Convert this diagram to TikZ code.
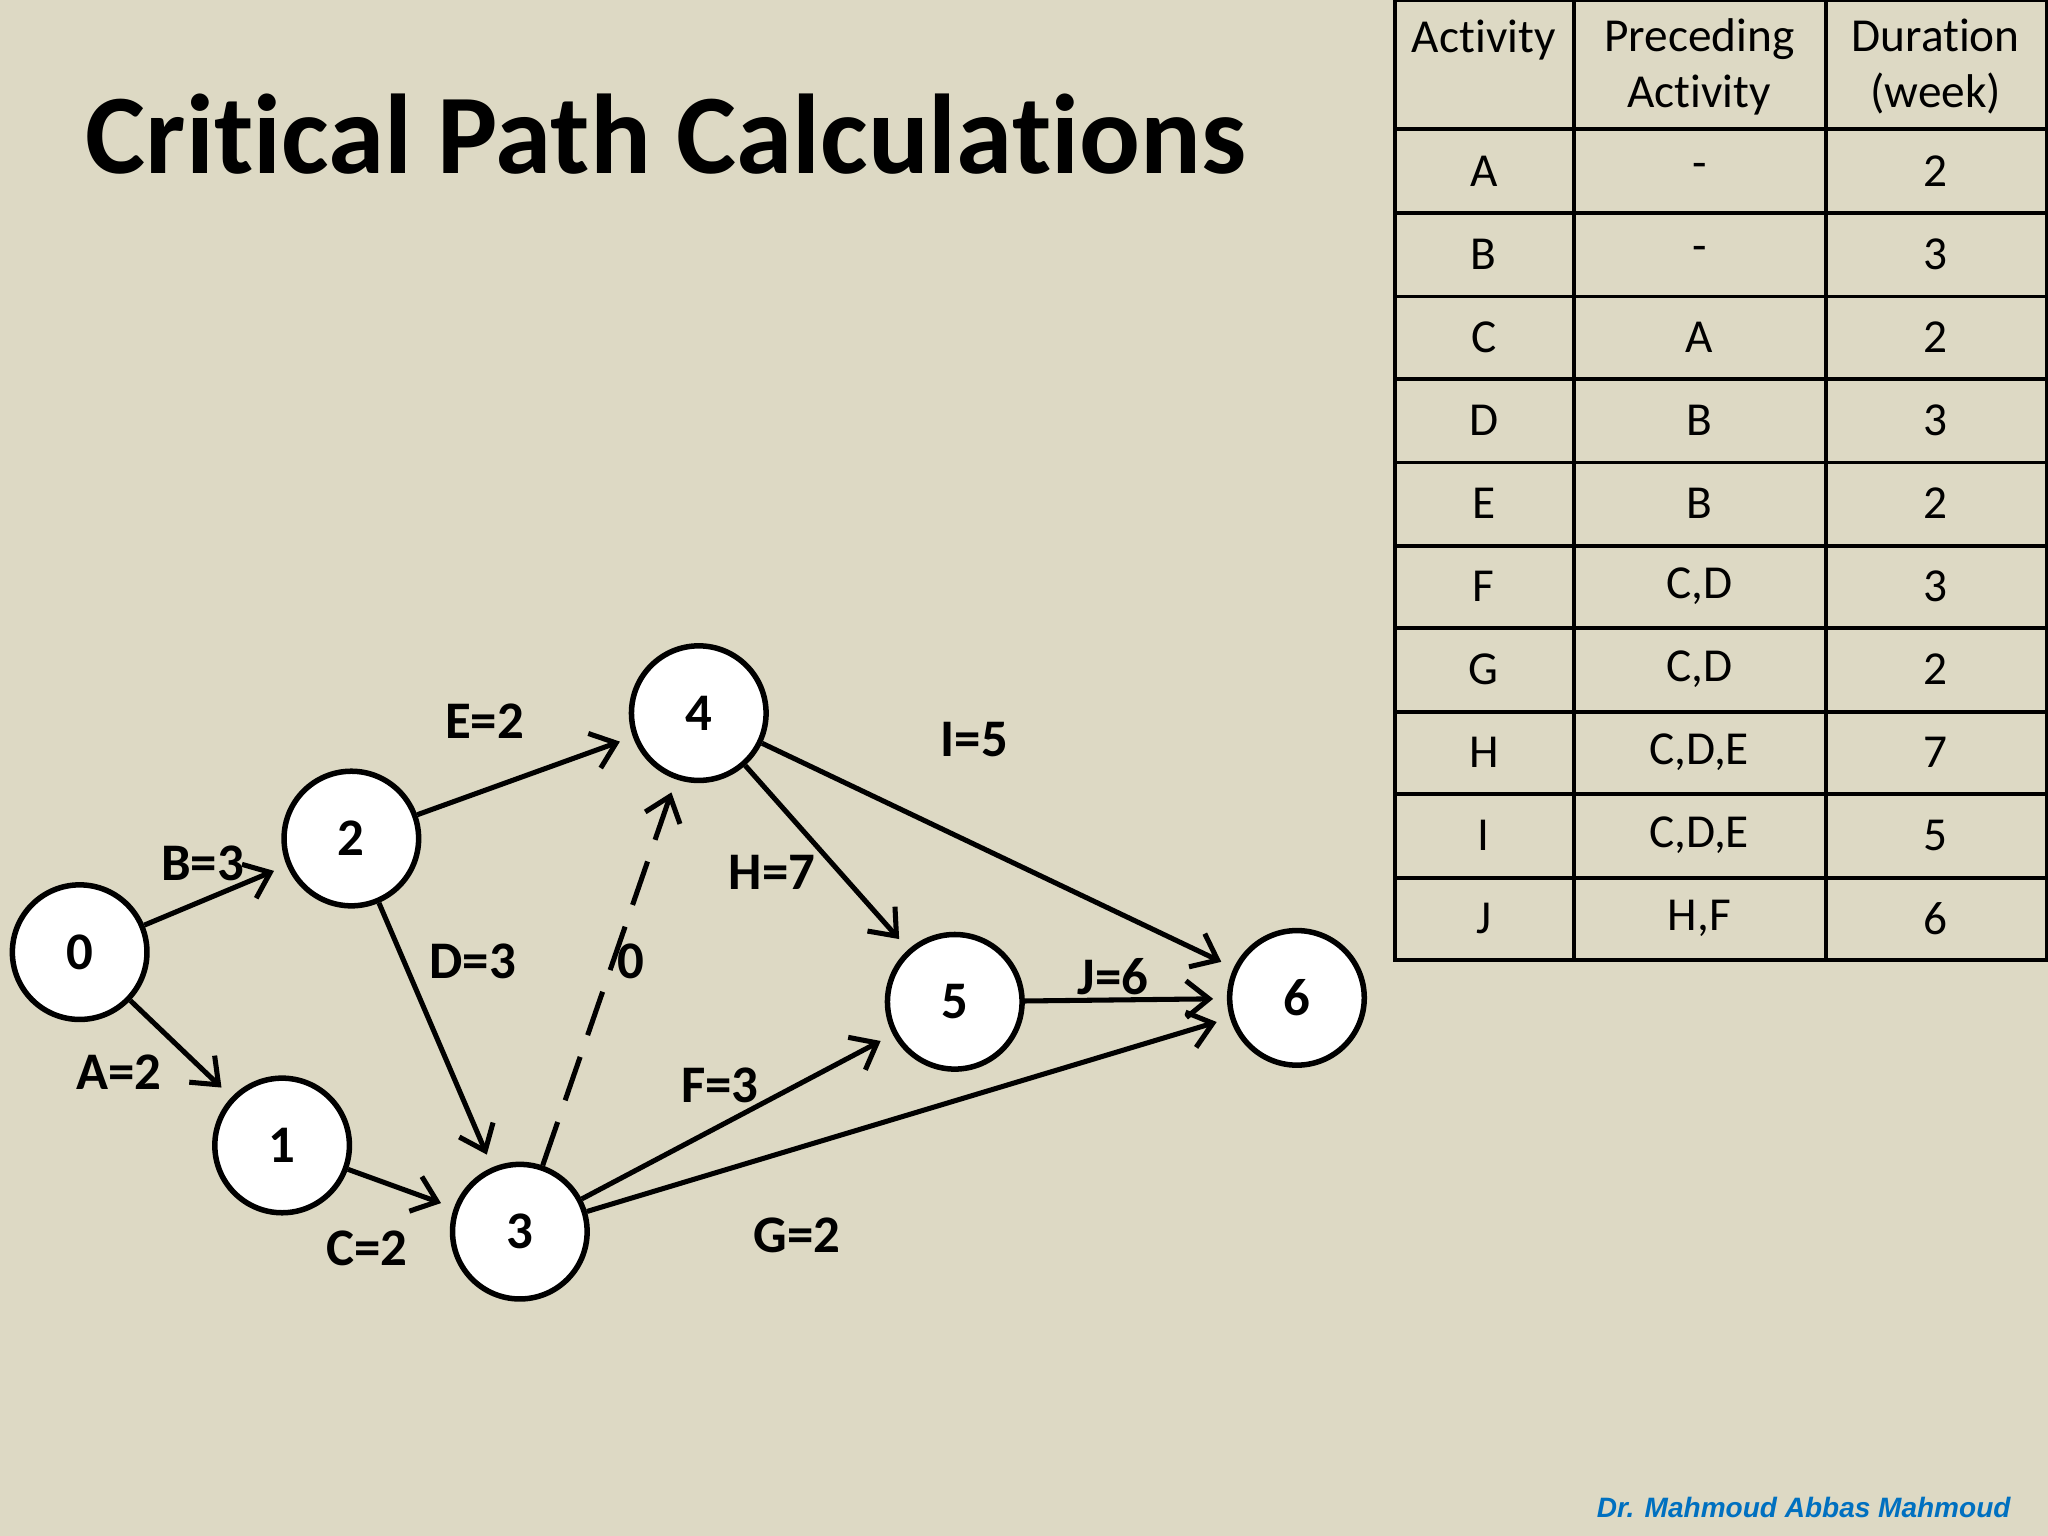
\documentclass[tikz,border=0pt]{standalone}
\usepackage{fontspec}
\setmainfont{Carlito}[RawFeature={-liga;-clig;-dlig;-calt}]
\newfontfamily\footfont{Liberation Sans}
\usetikzlibrary{arrows.meta}
\definecolor{bgc}{RGB}{221,217,196}
\definecolor{footc}{RGB}{0,112,192}
\begin{document}
\begin{tikzpicture}[x=0.01cm,y=-0.01cm,
  ev/.style={circle,draw=black,fill=white,line width=1.2pt,minimum size=1.03cm,inner sep=0pt,font=\fontsize{11.5}{14}\selectfont\bfseries},
  act/.style={-{Straight Barb[length=5pt,width=8pt,line width=1.1pt]},line width=1.1pt,shorten >=3pt},
  lab/.style={font=\fontsize{11.5}{14}\selectfont\bfseries},
  cell/.style={font=\fontsize{10.3}{12.2}\selectfont,align=center}]
\fill[bgc] (0,0) rectangle (1568,1176);
\useasboundingbox (0,0) rectangle (1568,1176);
\node[anchor=base west,font=\fontsize{24.7}{30}\selectfont\bfseries,inner sep=0pt] (title) at (65,133) {Crit\kern0pti\kern0ptcal Path Calculat\kern0pti\kern0ptons};
% events
\node[ev] (n0) at (61,729) {0};
\node[ev] (n1) at (216,877) {1};
\node[ev] (n2) at (269,642) {2};
\node[ev] (n3) at (398,943) {3};
\node[ev] (n4) at (535,546) {4};
\node[ev] (n5) at (731,767) {5};
\node[ev] (n6) at (993,764) {6};
\draw[act] (n0) -- (n1);
\draw[act] (n0) -- (n2);
\draw[act] (n1) -- (n3);
\draw[act] (n2) -- (n3);
\draw[act] (n2) -- (n4);
\draw[act,dash pattern=on 10pt off 5pt] (n3) -- (n4);
\draw[act] (n3) -- (n5);
\draw[act] (n3) -- (n6);
\draw[act] (n4) -- (n5);
\draw[act] (n4) -- (n6);
\draw[act] (n5) -- (n6);
\node[lab] (lA) at (91,821) {A=2};
\node[lab] (lB) at (155,661) {B=3};
\node[lab] (lC) at (281,956) {C=2};
\node[lab] (lD) at (362,736) {D=3};
\node[lab] (lE) at (371,552) {E=2};
\node[lab] (l0) at (483,736) {0};
\node[lab] (lF) at (551,831) {F=3};
\node[lab] (lG) at (610,946) {G=2};
\node[lab] (lH) at (591,668) {H=7};
\node[lab] (lI) at (746,566) {I=5};
\node[lab] (lJ) at (852,748) {J=6};
% table
\draw[line width=0.8pt] (1068,0) rectangle (1567,735);
\foreach \x in {1205,1398} \draw[line width=0.8pt] (\x,0) -- (\x,735);
\foreach \y in {99,163,227,290,354,418,481,545,608,672} \draw[line width=0.8pt] (1068,\y) -- (1567,\y);
\node[cell] (h1) at (1136,31) {Activity};
\node[cell] (h2) at (1301,51) {Preceding\\Activity};
\node[cell] (h3) at (1482,51) {Duration\\(week)};
\foreach \a/\p/\d [count=\i] in {A/-/2,B/-/3,C/A/2,D/B/3,E/B/2,F/{C,D}/3,G/{C,D}/2,H/{C,D,E}/7,I/{C,D,E}/5,J/{H,F}/6}{
  \pgfmathsetmacro\yy{131+63.6*(\i-1)}
  \node[cell] (ta\i) at (1136,\yy) {\a};
  \node[cell] (tp\i) at (1301,\yy) {\p};
  \node[cell] (td\i) at (1482,\yy) {\d};
}
\node[font=\footfont\fontsize{6.1}{8}\selectfont\bfseries\itshape,text=footc] (foot) at (1381,1154) {Dr. Mahmoud Abbas Mahmoud};
\end{tikzpicture}
\end{document}
